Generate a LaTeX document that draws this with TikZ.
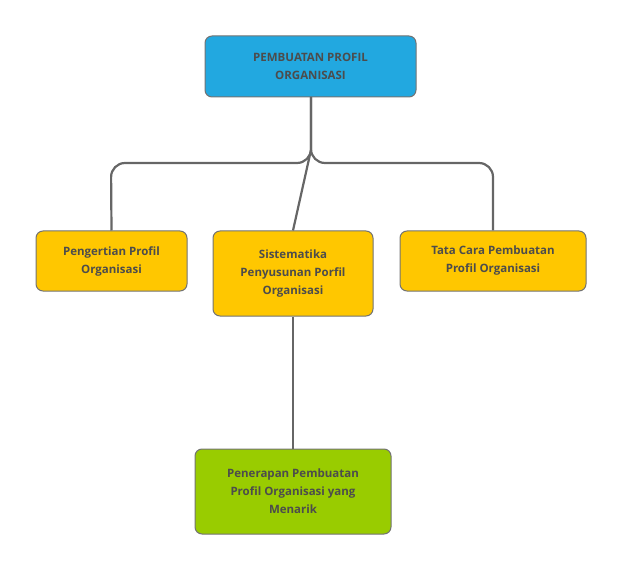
\documentclass[tikz,border=0pt]{standalone}
\usepackage{fontspec}
\setmainfont{Open Sans}
\begin{document}
\begin{tikzpicture}[x=1pt,y=-1pt,
  box/.style={draw=black!55,line width=1pt,rounded corners=7pt,align=center,font=\bfseries\fontsize{11.5}{18}\selectfont,text=black!70,inner sep=0pt},
  conn/.style={draw=black!60,line width=2.2pt,rounded corners=14pt}]
\useasboundingbox (0,0) rectangle (624,572);
\definecolor{bl}{HTML}{22A8E0}
\definecolor{og}{HTML}{FFC700}
\definecolor{gr}{HTML}{99CC00}
\node[box,fill=bl,minimum width=211pt,minimum height=61pt] (root) at (310.5,66.5) {PEMBUATAN PROFIL\\ORGANISASI};
\node[box,fill=og,minimum width=151pt,minimum height=60pt] (a) at (111.5,261) {Pengertian Profil\\Organisasi};
\node[box,fill=og,minimum width=160pt,minimum height=85pt] (b) at (293,273.5) {Sistematika\\Penyusunan Porfil\\Organisasi};
\node[box,fill=og,minimum width=186pt,minimum height=60pt] (c) at (493,261) {Tata Cara Pembuatan\\Profil Organisasi};
\node[box,fill=gr,minimum width=196pt,minimum height=85pt] (d) at (293,491.5) {Penerapan Pembuatan\\Profil Organisasi yang\\Menarik};
\coordinate (j) at (311,150);
\begin{scope}[on background layer/.style={}]
\draw[conn] (311,97) -- (311,163) -- (493,163) -- (c.north);
\draw[conn] (311,97) -- (311,163) -- (111,163) -- (a.north);
\draw[conn,rounded corners=0pt] (j) -- (b.north);
\draw[conn] (b.south) -- (d.north);
\end{scope}
\end{tikzpicture}
\end{document}
